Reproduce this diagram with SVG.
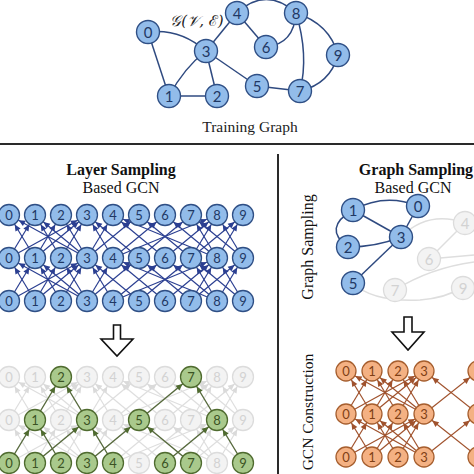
<svg xmlns="http://www.w3.org/2000/svg" xmlns:xlink="http://www.w3.org/1999/xlink" width="474" height="474" viewBox="0 0 474 474">
<style>
.title{font-family:"Liberation Serif","Times New Roman",serif;font-size:16px;fill:#111;text-anchor:middle}
.bold{font-weight:bold}
.lab{font-family:"Liberation Serif","Times New Roman",serif;font-size:15.5px;fill:#222;text-anchor:middle}
.nb circle{fill:#92BCEA;stroke:#2F4F85;stroke-width:1.4}
.nb text{font-family:Lato,"Open Sans",sans-serif;font-size:15px;fill:#1F3864;text-anchor:middle}
.lb circle{fill:#92BCEA;stroke:#2F4F85;stroke-width:1.3}
.lb text{font-family:Lato,"Open Sans",sans-serif;font-size:13px;fill:#1F3864;text-anchor:middle}
.lg circle{fill:#F3F3F3;stroke:#DCDCDC;stroke-width:1.3}
.lg text{font-family:Lato,"Open Sans",sans-serif;font-size:13px;fill:#D2D2D2;text-anchor:middle}
.lgr circle{fill:#A9C98C;stroke:#4F6B2F;stroke-width:1.3}
.lgr text{font-family:Lato,"Open Sans",sans-serif;font-size:13px;fill:#3B5323;text-anchor:middle}
.lo circle{fill:#F4B183;stroke:#A65E2E;stroke-width:1.3}
.lo text{font-family:Lato,"Open Sans",sans-serif;font-size:13px;fill:#7F3F15;text-anchor:middle}
.ng circle{fill:#F3F3F3;stroke:#DCDCDC;stroke-width:1.3}
.ng text{font-family:Lato,"Open Sans",sans-serif;font-size:15px;fill:#D2D2D2;text-anchor:middle}
.eb{fill:none;stroke:#2F4A80;stroke-width:1.5}
.eg{fill:none;stroke:#DEDEDE;stroke-width:1.5}
.egr{stroke:#55693A;stroke-width:1.3;marker-end:url(#mgr)}
.hollow{fill:#fff;stroke:#111;stroke-width:1.6;stroke-linejoin:miter}
</style>
<defs>
<marker id="mb" viewBox="-20 -5 20 10" refX="0" refY="0" markerWidth="20" markerHeight="10" markerUnits="userSpaceOnUse" orient="auto" overflow="visible"><path d="M-11,0 L-17.5,-3 L-17.5,3 Z" fill="#2B3F91"/></marker>
<marker id="mg" viewBox="-20 -5 20 10" refX="0" refY="0" markerWidth="20" markerHeight="10" markerUnits="userSpaceOnUse" orient="auto" overflow="visible"><path d="M-11,0 L-17.5,-3 L-17.5,3 Z" fill="#DADADA"/></marker>
<marker id="mgr" viewBox="-20 -5 20 10" refX="0" refY="0" markerWidth="20" markerHeight="10" markerUnits="userSpaceOnUse" orient="auto" overflow="visible"><path d="M-11,0 L-17.5,-3 L-17.5,3 Z" fill="#4F6B2F"/></marker>
<marker id="mo" viewBox="-20 -5 20 10" refX="0" refY="0" markerWidth="20" markerHeight="10" markerUnits="userSpaceOnUse" orient="auto" overflow="visible"><path d="M-10.5,0 L-17,-3 L-17,3 Z" fill="#A0522D"/></marker>
<g id="L">
<line x1="9" y1="43" x2="35" y2="0"/><line x1="35" y1="43" x2="9" y2="0"/>
<line x1="9" y1="43" x2="87" y2="0"/><line x1="87" y1="43" x2="9" y2="0"/>
<line x1="35" y1="43" x2="61" y2="0"/><line x1="61" y1="43" x2="35" y2="0"/>
<line x1="35" y1="43" x2="87" y2="0"/><line x1="87" y1="43" x2="35" y2="0"/>
<line x1="61" y1="43" x2="87" y2="0"/><line x1="87" y1="43" x2="61" y2="0"/>
<line x1="87" y1="43" x2="113" y2="0"/><line x1="113" y1="43" x2="87" y2="0"/>
<line x1="87" y1="43" x2="139" y2="0"/><line x1="139" y1="43" x2="87" y2="0"/>
<line x1="113" y1="43" x2="165" y2="0"/><line x1="165" y1="43" x2="113" y2="0"/>
<line x1="113" y1="43" x2="217" y2="0"/><line x1="217" y1="43" x2="113" y2="0"/>
<line x1="139" y1="43" x2="191" y2="0"/><line x1="191" y1="43" x2="139" y2="0"/>
<line x1="165" y1="43" x2="217" y2="0"/><line x1="217" y1="43" x2="165" y2="0"/>
<line x1="191" y1="43" x2="217" y2="0"/><line x1="217" y1="43" x2="191" y2="0"/>
<line x1="191" y1="43" x2="243" y2="0"/><line x1="243" y1="43" x2="191" y2="0"/>
<line x1="217" y1="43" x2="243" y2="0"/><line x1="243" y1="43" x2="217" y2="0"/>
</g>
<g id="O">
<line x1="346" y1="43" x2="372" y2="0"/><line x1="372" y1="43" x2="346" y2="0"/>
<line x1="346" y1="43" x2="424" y2="0"/><line x1="424" y1="43" x2="346" y2="0"/>
<line x1="372" y1="43" x2="398" y2="0"/><line x1="398" y1="43" x2="372" y2="0"/>
<line x1="372" y1="43" x2="424" y2="0"/><line x1="424" y1="43" x2="372" y2="0"/>
<line x1="398" y1="43" x2="424" y2="0"/><line x1="424" y1="43" x2="398" y2="0"/>
<line x1="424" y1="43" x2="478" y2="0"/><line x1="478" y1="43" x2="424" y2="0"/>
</g>
</defs>
<rect width="474" height="474" fill="#fff"/>

<!-- dividers -->
<line x1="0" y1="144" x2="474" y2="144" stroke="#2a2a2a" stroke-width="2"/>
<line x1="278" y1="154" x2="278" y2="474" stroke="#2a2a2a" stroke-width="2"/>

<!-- ===== Training graph ===== -->
<g id="top-edges">
<path class="eb" d="M148,32 Q180,28 206,51"/>
<path class="eb" d="M148,32 L169,96"/>
<path class="eb" d="M169,96 Q184,68 206,51"/>
<path class="eb" d="M169,96 L217,96"/>
<path class="eb" d="M206,51 L217,96"/>
<path class="eb" d="M206,51 L237,13"/>
<path class="eb" d="M206,51 L257,86"/>
<path class="eb" d="M257,86 L300,91"/>
<path class="eb" d="M237,13 L266,47"/>
<path class="eb" d="M266,47 Q294,44 296,13"/>
<path class="eb" d="M237,13 Q266,-14 296,13"/>
<path class="eb" d="M296,13 Q309,55 300,91"/>
<path class="eb" d="M296,13 Q330,24 338,55"/>
<path class="eb" d="M338,55 Q330,84 300,91"/>
</g>
<g id="t0" class="nb"><circle cx="148" cy="32" r="11.5"/><text x="148" y="37.5">0</text></g>
<g id="t1" class="nb"><circle cx="169" cy="96" r="11.5"/><text x="169" y="101.5">1</text></g>
<g id="t2" class="nb"><circle cx="217" cy="96" r="11.5"/><text x="217" y="101.5">2</text></g>
<g id="t3" class="nb"><circle cx="206" cy="51" r="11.5"/><text x="206" y="56.5">3</text></g>
<g id="t4" class="nb"><circle cx="237" cy="13" r="11.5"/><text x="237" y="18.5">4</text></g>
<g id="t5" class="nb"><circle cx="257" cy="86" r="11.5"/><text x="257" y="91.5">5</text></g>
<g id="t6" class="nb"><circle cx="266" cy="47" r="11.5"/><text x="266" y="52.5">6</text></g>
<g id="t7" class="nb"><circle cx="300" cy="91" r="11.5"/><text x="300" y="96.5">7</text></g>
<g id="t8" class="nb"><circle cx="296" cy="13" r="11.5"/><text x="296" y="18.5">8</text></g>
<g id="t9" class="nb"><circle cx="338" cy="55" r="11.5"/><text x="338" y="60.5">9</text></g>
<text x="197" y="26" font-family="'DejaVu Serif','Noto Sans',serif" font-size="15" font-style="italic" fill="#222" text-anchor="middle">𝒢(𝒱, ℰ)</text>
<text class="lab" x="250" y="132">Training Graph</text>

<!-- ===== Layer sampling ===== -->
<text class="title bold" x="121" y="175">Layer Sampling</text>
<text class="title" x="121" y="193">Based GCN</text>
<g id="ls-edges" stroke="#2B3F91" stroke-width="1.2" marker-end="url(#mb)">
<use xlink:href="#L" href="#L" y="215"/>
<use xlink:href="#L" href="#L" y="258"/>
</g>
<g id="ls-nodes" class="lb">
<g id="ls1-0"><circle cx="9" cy="215" r="10.5"/><text x="9" y="219.5">0</text></g>
<g id="ls1-1"><circle cx="35" cy="215" r="10.5"/><text x="35" y="219.5">1</text></g>
<g id="ls1-2"><circle cx="61" cy="215" r="10.5"/><text x="61" y="219.5">2</text></g>
<g id="ls1-3"><circle cx="87" cy="215" r="10.5"/><text x="87" y="219.5">3</text></g>
<g id="ls1-4"><circle cx="113" cy="215" r="10.5"/><text x="113" y="219.5">4</text></g>
<g id="ls1-5"><circle cx="139" cy="215" r="10.5"/><text x="139" y="219.5">5</text></g>
<g id="ls1-6"><circle cx="165" cy="215" r="10.5"/><text x="165" y="219.5">6</text></g>
<g id="ls1-7"><circle cx="191" cy="215" r="10.5"/><text x="191" y="219.5">7</text></g>
<g id="ls1-8"><circle cx="217" cy="215" r="10.5"/><text x="217" y="219.5">8</text></g>
<g id="ls1-9"><circle cx="243" cy="215" r="10.5"/><text x="243" y="219.5">9</text></g>
<g id="ls2-0"><circle cx="9" cy="258" r="10.5"/><text x="9" y="262.5">0</text></g>
<g id="ls2-1"><circle cx="35" cy="258" r="10.5"/><text x="35" y="262.5">1</text></g>
<g id="ls2-2"><circle cx="61" cy="258" r="10.5"/><text x="61" y="262.5">2</text></g>
<g id="ls2-3"><circle cx="87" cy="258" r="10.5"/><text x="87" y="262.5">3</text></g>
<g id="ls2-4"><circle cx="113" cy="258" r="10.5"/><text x="113" y="262.5">4</text></g>
<g id="ls2-5"><circle cx="139" cy="258" r="10.5"/><text x="139" y="262.5">5</text></g>
<g id="ls2-6"><circle cx="165" cy="258" r="10.5"/><text x="165" y="262.5">6</text></g>
<g id="ls2-7"><circle cx="191" cy="258" r="10.5"/><text x="191" y="262.5">7</text></g>
<g id="ls2-8"><circle cx="217" cy="258" r="10.5"/><text x="217" y="262.5">8</text></g>
<g id="ls2-9"><circle cx="243" cy="258" r="10.5"/><text x="243" y="262.5">9</text></g>
<g id="ls3-0"><circle cx="9" cy="301" r="10.5"/><text x="9" y="305.5">0</text></g>
<g id="ls3-1"><circle cx="35" cy="301" r="10.5"/><text x="35" y="305.5">1</text></g>
<g id="ls3-2"><circle cx="61" cy="301" r="10.5"/><text x="61" y="305.5">2</text></g>
<g id="ls3-3"><circle cx="87" cy="301" r="10.5"/><text x="87" y="305.5">3</text></g>
<g id="ls3-4"><circle cx="113" cy="301" r="10.5"/><text x="113" y="305.5">4</text></g>
<g id="ls3-5"><circle cx="139" cy="301" r="10.5"/><text x="139" y="305.5">5</text></g>
<g id="ls3-6"><circle cx="165" cy="301" r="10.5"/><text x="165" y="305.5">6</text></g>
<g id="ls3-7"><circle cx="191" cy="301" r="10.5"/><text x="191" y="305.5">7</text></g>
<g id="ls3-8"><circle cx="217" cy="301" r="10.5"/><text x="217" y="305.5">8</text></g>
<g id="ls3-9"><circle cx="243" cy="301" r="10.5"/><text x="243" y="305.5">9</text></g>
</g>

<polygon class="hollow" points="113.5,325 120.5,325 120.5,339 133,339 117,356 101,339 113.5,339"/>

<!-- sampled layers -->
<g id="ls-faded-edges" stroke="#DEDEDE" stroke-width="1.2" marker-end="url(#mg)">
<use xlink:href="#L" href="#L" y="377"/>
<use xlink:href="#L" href="#L" y="420"/>
</g>
<g id="ls-faded-nodes" class="lg">
<g id="f1-0"><circle cx="9" cy="377" r="10.5"/><text x="9" y="381.5">0</text></g>
<g id="f1-1"><circle cx="35" cy="377" r="10.5"/><text x="35" y="381.5">1</text></g>
<g id="f1-3"><circle cx="87" cy="377" r="10.5"/><text x="87" y="381.5">3</text></g>
<g id="f1-4"><circle cx="113" cy="377" r="10.5"/><text x="113" y="381.5">4</text></g>
<g id="f1-5"><circle cx="139" cy="377" r="10.5"/><text x="139" y="381.5">5</text></g>
<g id="f1-6"><circle cx="165" cy="377" r="10.5"/><text x="165" y="381.5">6</text></g>
<g id="f1-8"><circle cx="217" cy="377" r="10.5"/><text x="217" y="381.5">8</text></g>
<g id="f1-9"><circle cx="243" cy="377" r="10.5"/><text x="243" y="381.5">9</text></g>
<g id="f2-0"><circle cx="9" cy="420" r="10.5"/><text x="9" y="424.5">0</text></g>
<g id="f2-2"><circle cx="61" cy="420" r="10.5"/><text x="61" y="424.5">2</text></g>
<g id="f2-4"><circle cx="113" cy="420" r="10.5"/><text x="113" y="424.5">4</text></g>
<g id="f2-6"><circle cx="165" cy="420" r="10.5"/><text x="165" y="424.5">6</text></g>
<g id="f2-7"><circle cx="191" cy="420" r="10.5"/><text x="191" y="424.5">7</text></g>
<g id="f2-9"><circle cx="243" cy="420" r="10.5"/><text x="243" y="424.5">9</text></g>
<g id="f3-5"><circle cx="139" cy="463" r="10.5"/><text x="139" y="467.5">5</text></g>
<g id="f3-8"><circle cx="217" cy="463" r="10.5"/><text x="217" y="467.5">8</text></g>
</g>
<g id="ls-sampled-edges">
<line class="egr" x1="35" y1="420" x2="61" y2="377"/>
<line class="egr" x1="87" y1="420" x2="61" y2="377"/>
<line class="egr" x1="139" y1="420" x2="191" y2="377"/>
<line class="egr" x1="217" y1="420" x2="191" y2="377"/>
<line class="egr" x1="9" y1="463" x2="35" y2="420"/>
<line class="egr" x1="61" y1="463" x2="35" y2="420"/>
<line class="egr" x1="35" y1="463" x2="87" y2="420"/>
<line class="egr" x1="113" y1="463" x2="87" y2="420"/>
<line class="egr" x1="87" y1="463" x2="139" y2="420"/>
<line class="egr" x1="191" y1="463" x2="139" y2="420"/>
<line class="egr" x1="165" y1="463" x2="217" y2="420"/>
<line class="egr" x1="243" y1="463" x2="217" y2="420"/>
</g>
<g id="ls-sampled-nodes" class="lgr">
<g id="s1-2"><circle cx="61" cy="377" r="10.5"/><text x="61" y="381.5">2</text></g>
<g id="s1-7"><circle cx="191" cy="377" r="10.5"/><text x="191" y="381.5">7</text></g>
<g id="s2-1"><circle cx="35" cy="420" r="10.5"/><text x="35" y="424.5">1</text></g>
<g id="s2-3"><circle cx="87" cy="420" r="10.5"/><text x="87" y="424.5">3</text></g>
<g id="s2-5"><circle cx="139" cy="420" r="10.5"/><text x="139" y="424.5">5</text></g>
<g id="s2-8"><circle cx="217" cy="420" r="10.5"/><text x="217" y="424.5">8</text></g>
<g id="s3-0"><circle cx="9" cy="463" r="10.5"/><text x="9" y="467.5">0</text></g>
<g id="s3-1"><circle cx="35" cy="463" r="10.5"/><text x="35" y="467.5">1</text></g>
<g id="s3-2"><circle cx="61" cy="463" r="10.5"/><text x="61" y="467.5">2</text></g>
<g id="s3-3"><circle cx="87" cy="463" r="10.5"/><text x="87" y="467.5">3</text></g>
<g id="s3-4"><circle cx="113" cy="463" r="10.5"/><text x="113" y="467.5">4</text></g>
<g id="s3-6"><circle cx="165" cy="463" r="10.5"/><text x="165" y="467.5">6</text></g>
<g id="s3-7"><circle cx="191" cy="463" r="10.5"/><text x="191" y="467.5">7</text></g>
<g id="s3-9"><circle cx="243" cy="463" r="10.5"/><text x="243" y="467.5">9</text></g>
</g>

<!-- ===== Graph sampling ===== -->
<text class="title bold" x="416" y="175">Graph Sampling</text>
<text class="title" x="413" y="193">Based GCN</text>
<text class="title" transform="translate(313,247) rotate(-90)">Graph Sampling</text>
<text class="title" transform="translate(313,412) rotate(-90)" style="font-size:15.5px">GCN Construction</text>

<g id="gs-faded-edges">
<path class="eg" d="M401,237 Q428,210 465,223"/>
<path class="eg" d="M465,223 L429,259"/>
<path class="eg" d="M429,259 L474,255"/>
<path class="eg" d="M395,290 Q430,268 474,262"/>
<path class="eg" d="M353,283 Q372,302 420,300 Q446,298 463,287"/>
</g>
<g id="gs-faded-nodes" class="ng">
<g id="g4"><circle cx="465" cy="223" r="11.5"/><text x="465" y="228.5">4</text></g>
<g id="g6"><circle cx="429" cy="259" r="11.5"/><text x="429" y="264.5">6</text></g>
<g id="g7"><circle cx="395" cy="290" r="11.5"/><text x="395" y="295.5">7</text></g>
<g id="g9"><circle cx="463" cy="288" r="11.5"/><text x="463" y="293.5">9</text></g>
</g>
<g id="gs-edges">
<path class="eb" d="M353,210 Q385,193 418,206"/>
<path class="eb" d="M353,210 L401,237"/>
<path class="eb" d="M418,206 L401,237"/>
<path class="eb" d="M348,247 Q376,247 401,237"/>
<path class="eb" d="M353,210 Q322,228 348,247"/>
<path class="eb" d="M401,237 L353,283"/>
</g>
<g id="g0" class="nb"><circle cx="418" cy="206" r="11.5"/><text x="418" y="211.5">0</text></g>
<g id="g1" class="nb"><circle cx="353" cy="210" r="11.5"/><text x="353" y="215.5">1</text></g>
<g id="g2" class="nb"><circle cx="348" cy="247" r="11.5"/><text x="348" y="252.5">2</text></g>
<g id="g3" class="nb"><circle cx="401" cy="237" r="11.5"/><text x="401" y="242.5">3</text></g>
<g id="g5" class="nb"><circle cx="353" cy="283" r="11.5"/><text x="353" y="288.5">5</text></g>

<polygon class="hollow" points="404,317 412,317 412,332 424,332 408,350 392,332 404,332"/>

<g id="gc-edges" stroke="#A0522D" stroke-width="1.2" marker-end="url(#mo)">
<use xlink:href="#O" href="#O" y="371"/>
<use xlink:href="#O" href="#O" y="414"/>
</g>
<g id="gc-nodes" class="lo">
<g id="o1-0"><circle cx="346" cy="371" r="10"/><text x="346" y="375.5">0</text></g>
<g id="o1-1"><circle cx="372" cy="371" r="10"/><text x="372" y="375.5">1</text></g>
<g id="o1-2"><circle cx="398" cy="371" r="10"/><text x="398" y="375.5">2</text></g>
<g id="o1-3"><circle cx="424" cy="371" r="10"/><text x="424" y="375.5">3</text></g>
<g id="o1-5"><circle cx="478" cy="371" r="10"/></g>
<g id="o2-0"><circle cx="346" cy="414" r="10"/><text x="346" y="418.5">0</text></g>
<g id="o2-1"><circle cx="372" cy="414" r="10"/><text x="372" y="418.5">1</text></g>
<g id="o2-2"><circle cx="398" cy="414" r="10"/><text x="398" y="418.5">2</text></g>
<g id="o2-3"><circle cx="424" cy="414" r="10"/><text x="424" y="418.5">3</text></g>
<g id="o2-5"><circle cx="478" cy="414" r="10"/></g>
<g id="o3-0"><circle cx="346" cy="457" r="10"/><text x="346" y="461.5">0</text></g>
<g id="o3-1"><circle cx="372" cy="457" r="10"/><text x="372" y="461.5">1</text></g>
<g id="o3-2"><circle cx="398" cy="457" r="10"/><text x="398" y="461.5">2</text></g>
<g id="o3-3"><circle cx="424" cy="457" r="10"/><text x="424" y="461.5">3</text></g>
<g id="o3-5"><circle cx="478" cy="457" r="10"/></g>
</g>
</svg>
